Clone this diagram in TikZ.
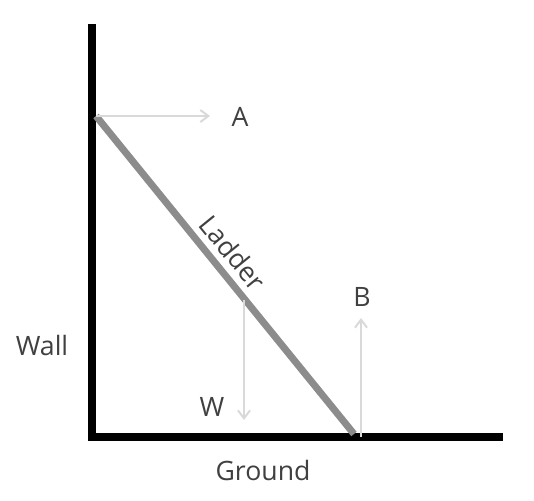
\documentclass[tikz,border=0pt]{standalone}
\usepackage{fontspec}
\setmainfont{Open Sans}
\usetikzlibrary{arrows.meta}

\begin{document}
\begin{tikzpicture}[x=0.75pt,y=-0.75pt,font=\fontsize{20}{24}\selectfont,
  force/.style={draw=black!15,line width=1.5pt,-{Straight Barb[length=6pt,width=9pt]}},
  txt/.style={text=black!75,inner sep=0pt}]
  \useasboundingbox (0,0) rectangle (534,500);
  \coordinate (wtop) at (92,24);
  \coordinate (corner) at (92,437);
  \coordinate (gend) at (503,437);
  \coordinate (top) at (96,116);
  \coordinate (foot) at (354,434);
  \coordinate (ahead) at (210,116);
  \coordinate (wtail) at (244,300);
  \coordinate (whead) at (244,420);
  \coordinate (btail) at (361,437);
  \coordinate (bhead) at (361,318);
  \node[txt] (a) at (240,117) {A};
  \node[txt] (w) at (212,407) {W};
  \node[txt] (b) at (362,297) {B};
  \node[txt] (wall) at (42,345) {Wall};
  \node[txt] (ground) at (263,470) {Ground};
  \draw[line width=6pt] (wtop) -- (corner) -- (gend);
  \draw[black!45,line width=5.25pt] (top) -- node[pos=.47,sloped,above=5pt,txt] (lbl) {Ladder} (foot);
  \draw[force] (top) -- (ahead);
  \draw[force] (wtail) -- (whead);
  \draw[force] (btail) -- (bhead);
\end{tikzpicture}
\end{document}
